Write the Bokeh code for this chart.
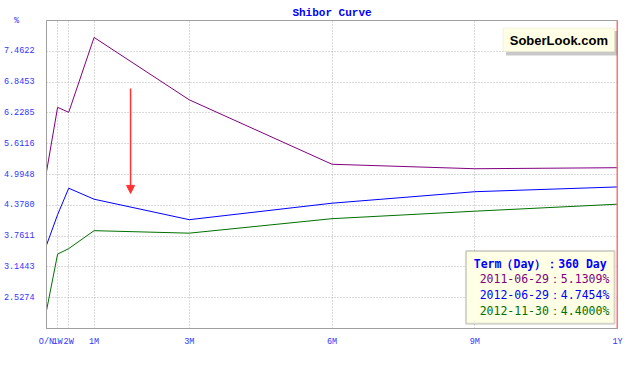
from bokeh.plotting import figure
from bokeh.models import (Range1d, FixedTicker, NumeralTickFormatter, Span, Label,
                          Arrow, NormalHead, BoxAnnotation)
from bokeh.embed import file_html
from bokeh.resources import INLINE

# ---- data ----
terms = ["O/N", "1W", "2W", "1M", "3M", "6M", "9M", "1Y"]
term_days = [0, 7, 14, 30, 90, 180, 270, 360]
s_2011_06_29 = [5.05, 6.34, 6.24, 7.74, 6.49, 5.20, 5.11, 5.1309]
s_2012_06_29 = [3.58, 4.19, 4.72, 4.50, 4.09, 4.42, 4.65, 4.7454]
s_2012_11_30 = [2.27, 3.40, 3.51, 3.87, 3.82, 4.11, 4.26, 4.4000]
series_names = ["2011-06-29", "2012-06-29", "2012-11-30"]
series_values = [s_2011_06_29, s_2012_06_29, s_2012_11_30]
series_colors = ["#800080", "#0000ff", "#007000"]
y_ticks = [2.5274, 3.1443, 3.7611, 4.3780, 4.9948, 5.6116, 6.2285, 6.8453, 7.4622]
y_min, y_max = 1.9106, 8.0790
x_min, x_max = 0, 360
unit_label = "%"

# ---- reference-pixel -> data helpers (reference frame geometry) ----
FL, FR, FT, FB = 41, 625, 20, 346
def dx(px):
    return x_min + (px - FL) / (FR - FL) * (x_max - x_min)
def dy(py):
    return y_max - (py - FT) / (FB - FT) * (y_max - y_min)

p = figure(width=624, height=349, output_backend="svg", toolbar_location=None,
           x_range=Range1d(x_min, x_max), y_range=Range1d(y_min, y_max),
           min_border_left=41, min_border_right=7, min_border_top=20, min_border_bottom=11,
           title="Shibor Curve")
p.title.align = "center"
p.title.standoff = 3
p.title.text_color = "#0000ff"
p.title.text_font = "Liberation Mono"
p.title.text_font_size = "11px"
p.title.text_font_style = "bold"
p.outline_line_color = "#a0a0a0"
p.background_fill_color = "white"

axis_blue = "#3333ff"
for ax in (p.xaxis[0], p.yaxis[0]):
    ax.axis_line_color = "#a0a0a0"
    ax.major_tick_line_color = None
    ax.minor_tick_line_color = None
    ax.major_label_text_color = axis_blue
    ax.major_label_text_font = "Liberation Mono"
    ax.major_label_text_font_size = "8.5px"

# unit "%" shown as a label at the top of the y axis
p.yaxis.ticker = FixedTicker(ticks=y_ticks + [y_max])
p.yaxis.formatter = NumeralTickFormatter(format="0.0000")
p.yaxis.major_label_overrides = {y_max: unit_label + "\u00a0" * 3}
p.yaxis.major_label_standoff = 6

p.xaxis.ticker = FixedTicker(ticks=term_days)
p.xaxis.major_label_overrides = {d: t for d, t in zip(term_days, terms)}
p.xaxis.major_label_text_align = "left"
p.xaxis.major_label_standoff = 2

for g in (p.xgrid[0], p.ygrid[0]):
    g.grid_line_color = "#b4b4b4"
    g.grid_line_dash = "1 2"

for vals, col in zip(series_values, series_colors):
    p.line(term_days, vals, line_color=col, line_width=1)

# right red boundary
p.add_layout(Span(location=x_max, dimension="height", line_color="#ff7070", line_width=2))

# red arrow
p.add_layout(Arrow(end=NormalHead(size=8, fill_color="#ff3333", line_color="#ff3333"),
                   x_start=dx(127), y_start=dy(92), x_end=dx(127), y_end=dy(203),
                   line_color="#ff3333", line_width=1.5))

# watermark box
p.add_layout(BoxAnnotation(left=dx(511), right=dx(625), top=dy(31), bottom=dy(57),
                           fill_color="#606060", fill_alpha=0.35, line_color=None))
p.add_layout(BoxAnnotation(left=dx(508), right=dx(622), top=dy(28), bottom=dy(53),
                           fill_color="#ffffe6", fill_alpha=1, line_color="#d8d8c0", line_width=1))
p.add_layout(Label(x=dx(565), y=dy(41), text="SoberLook.com", text_align="center",
                   text_baseline="middle", text_color="black", text_font="Liberation Sans",
                   text_font_style="bold", text_font_size="13px"))

# value box
p.add_layout(BoxAnnotation(left=dx(470), right=dx(622), top=dy(264), bottom=dy(341),
                           fill_color="#ffffe6", fill_alpha=1, line_color="#707070", line_width=2))
p.add_layout(Label(x=dx(478), y=dy(278), text="Term（Day）：360 Day", text_align="left",
                   text_baseline="middle", text_color="#0000ff", text_font="DejaVu Sans Mono",
                   text_font_style="bold", text_font_size="11.5px"))
for i, (name, vals, col) in enumerate(zip(series_names, series_values, series_colors)):
    p.add_layout(Label(x=dx(484), y=dy(294 + 17 * i), text=f"{name}：{vals[-1]:.4f}%",
                       text_align="left", text_baseline="middle", text_color=col,
                       text_font="DejaVu Sans Mono", text_font_size="11.5px"))

open("out.html", "w").write(file_html(p, INLINE))
